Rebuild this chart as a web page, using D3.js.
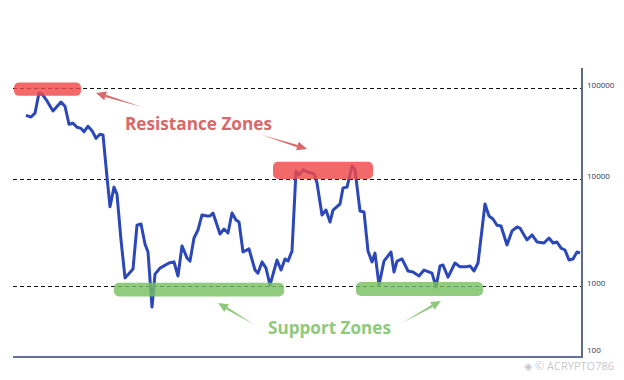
<!DOCTYPE html>
<html>
<head>
<meta charset="utf-8">
<script src="https://cdn.jsdelivr.net/npm/d3@7"></script>
<style>
  body { margin: 0; background: #fff; }
  svg { display: block; font-family: "Open Sans", sans-serif; }
</style>
</head>
<body>
<svg id="chart" width="624" height="380"></svg>
<script>
// days since start of the window
var days = [26, 36, 44, 52, 58, 68, 80, 96, 104, 112, 120, 128, 136, 142, 150, 158, 166, 174, 180,
    188, 194, 202, 208, 216, 224, 240, 248, 256, 264, 270, 278, 284, 294, 312, 322, 330, 338, 348,
    354, 362, 370, 378, 388, 394, 400, 414, 422, 430, 438, 446, 452, 460, 472, 484, 490, 498, 506,
    514, 528, 536, 544, 550, 558, 566, 572, 580, 590, 602, 608, 618, 626, 634, 640, 654, 660, 668,
    678, 684, 694, 702, 710, 718, 724, 732, 742, 756, 762, 768, 778, 790, 800, 812, 822, 838, 846,
    854, 860, 870, 884, 894, 906, 914, 922, 930, 944, 952, 960, 968, 976, 988, 998, 1008, 1014,
    1022, 1028, 1038, 1048, 1062, 1072, 1080, 1088, 1096, 1104, 1112, 1120, 1128, 1134];

var prices = [50000, 48000, 53000, 88000, 86000, 72000, 56000, 70000, 63000, 40000, 41000, 37000,
    36000, 33000, 38000, 34000, 28000, 31000, 30500, 10500, 5500, 8400, 7200, 2700, 1190, 1440,
    3700, 3800, 2470, 2080, 500, 1290, 1470, 1640, 1680, 1240, 2370, 1830, 1710, 2810, 3340, 4610,
    4510, 4510, 4810, 3060, 3410, 3130, 4810, 4140, 3960, 2080, 2220, 1410, 1320, 1680, 1470, 1020,
    1750, 1410, 1790, 1710, 2120, 12200, 11100, 12600, 11900, 11400, 9180, 4610, 5130, 3960, 5130,
    5840, 8240, 8400, 13900, 12600, 5020, 4920, 2120, 1680, 2030, 1020, 1710, 2080, 1350, 1710,
    1790, 1380, 1350, 1240, 1410, 1320, 970, 1540, 1570, 1210, 1640, 1510, 1510, 1540, 1380, 1640,
    5840, 4510, 4230, 3700, 3640, 2420, 3270, 3560, 3480, 3000, 2700, 3000, 2580, 2520, 2810, 2520,
    2580, 2260, 2170, 1750, 1790, 2080, 2030];

var tickValues = [100, 1000, 10000, 100000];
var tickLabels = ['100', '1000', '10000', '100000'];

// zones: [startDay, endDay, low, high]
var resistanceZones = [[2, 136, 82000, 115000], [520, 720, 10000, 15500]];
var supportZones = [[202, 542, 710, 1070], [686, 940, 720, 1090]];

var svg = d3.select('#chart');
var plot = { left: 13, right: 582, top: 68, bottom: 357 };

var xScale = d3.scaleLinear().domain([0, 1138]).range([plot.left, plot.right]);
// the picture's decades are not evenly spaced, so a piecewise log scale
var yScale = d3.scaleLog()
    .domain([100, 1000, 10000, 100000])
    .range([356, 286, 179, 88]);

// dashed gridlines
svg.append('g')
    .selectAll('line')
    .data(tickValues.slice(1))
    .join('line')
    .attr('x1', plot.left)
    .attr('x2', plot.right)
    .attr('y1', function(d) { return Math.round(yScale(d)) + 0.5; })
    .attr('y2', function(d) { return Math.round(yScale(d)) + 0.5; })
    .attr('stroke', '#111')
    .attr('stroke-width', 1)
    .attr('stroke-dasharray', '4,3');

// price line
var line = d3.line()
    .x(function(d, i) { return xScale(days[i]); })
    .y(function(d) { return yScale(d); });

svg.append('path')
    .attr('d', line(prices))
    .attr('fill', 'none')
    .attr('stroke', '#2c48b8')
    .attr('stroke-width', 3)
    .attr('stroke-linejoin', 'round');

function drawZones(zones, color) {
    svg.append('g')
        .selectAll('rect')
        .data(zones)
        .join('rect')
        .attr('x', function(d) { return xScale(d[0]); })
        .attr('width', function(d) { return xScale(d[1]) - xScale(d[0]); })
        .attr('y', function(d) { return yScale(d[3]); })
        .attr('height', function(d) { return yScale(d[2]) - yScale(d[3]); })
        .attr('rx', 5)
        .attr('fill', color)
        .attr('fill-opacity', 0.82);
}
drawZones(resistanceZones, '#f04848');
drawZones(supportZones, '#78c062');

// axes
var yAxis = d3.axisRight(yScale)
    .tickValues(tickValues)
    .tickFormat(function(d, i) { return tickLabels[i]; })
    .tickSize(0)
    .tickPadding(5);

var yAxisG = svg.append('g')
    .attr('transform', 'translate(' + plot.right + ',0)')
    .call(yAxis);
yAxisG.select('.domain').remove();
yAxisG.selectAll('text')
    .attr('font-size', 8)
    .attr('font-family', '"Open Sans", sans-serif')
    .attr('fill', '#2a3560')
    .attr('dy', function(d) { return d === 100 ? '-0.4em' : '-0.1em'; });

svg.append('line')
    .attr('x1', plot.right).attr('x2', plot.right)
    .attr('y1', plot.top).attr('y2', plot.bottom + 1)
    .attr('stroke', '#5a6a88')
    .attr('stroke-width', 2);
svg.append('line')
    .attr('x1', plot.left).attr('x2', plot.right)
    .attr('y1', plot.bottom).attr('y2', plot.bottom)
    .attr('stroke', '#6272a4')
    .attr('stroke-width', 2);

// annotations
function arrow(x1, y1, x2, y2, color) {
    var ang = Math.atan2(y2 - y1, x2 - x1);
    var len = 10, half = 4.5;
    var bx = x2 - len * Math.cos(ang), by = y2 - len * Math.sin(ang);
    var px = -Math.sin(ang), py = Math.cos(ang);
    svg.append('path')
        .attr('d', 'M' + x1 + ',' + y1 +
            'L' + (bx + px * 1.2) + ',' + (by + py * 1.2) +
            'L' + (bx - px * 1.2) + ',' + (by - py * 1.2) + 'Z')
        .attr('fill', color);
    svg.append('path')
        .attr('d', 'M' + x2 + ',' + y2 +
            'L' + (bx + px * half) + ',' + (by + py * half) +
            'L' + (bx - px * half) + ',' + (by - py * half) + 'Z')
        .attr('fill', color);
}

var red = '#d9686a', green = '#8fca7c';
arrow(142, 107, 96, 93, red);
arrow(262, 135, 307, 149, red);
arrow(255, 325, 218, 303, green);
arrow(402, 323, 441, 301, green);

svg.append('text')
    .attr('x', 125).attr('y', 130)
    .attr('font-size', 17).attr('font-weight', 700)
    .attr('textLength', 147).attr('lengthAdjust', 'spacingAndGlyphs')
    .attr('fill', red)
    .text('Resistance Zones');

svg.append('text')
    .attr('x', 268).attr('y', 334)
    .attr('font-size', 17).attr('font-weight', 700)
    .attr('textLength', 123).attr('lengthAdjust', 'spacingAndGlyphs')
    .attr('fill', green)
    .text('Support Zones');

svg.append('text')
    .attr('x', 614).attr('y', 370)
    .attr('text-anchor', 'end')
    .attr('font-size', 11)
    .attr('fill', '#c8c8cc')
    .text('◈ © ACRYPTO786');
</script>
</body>
</html>
